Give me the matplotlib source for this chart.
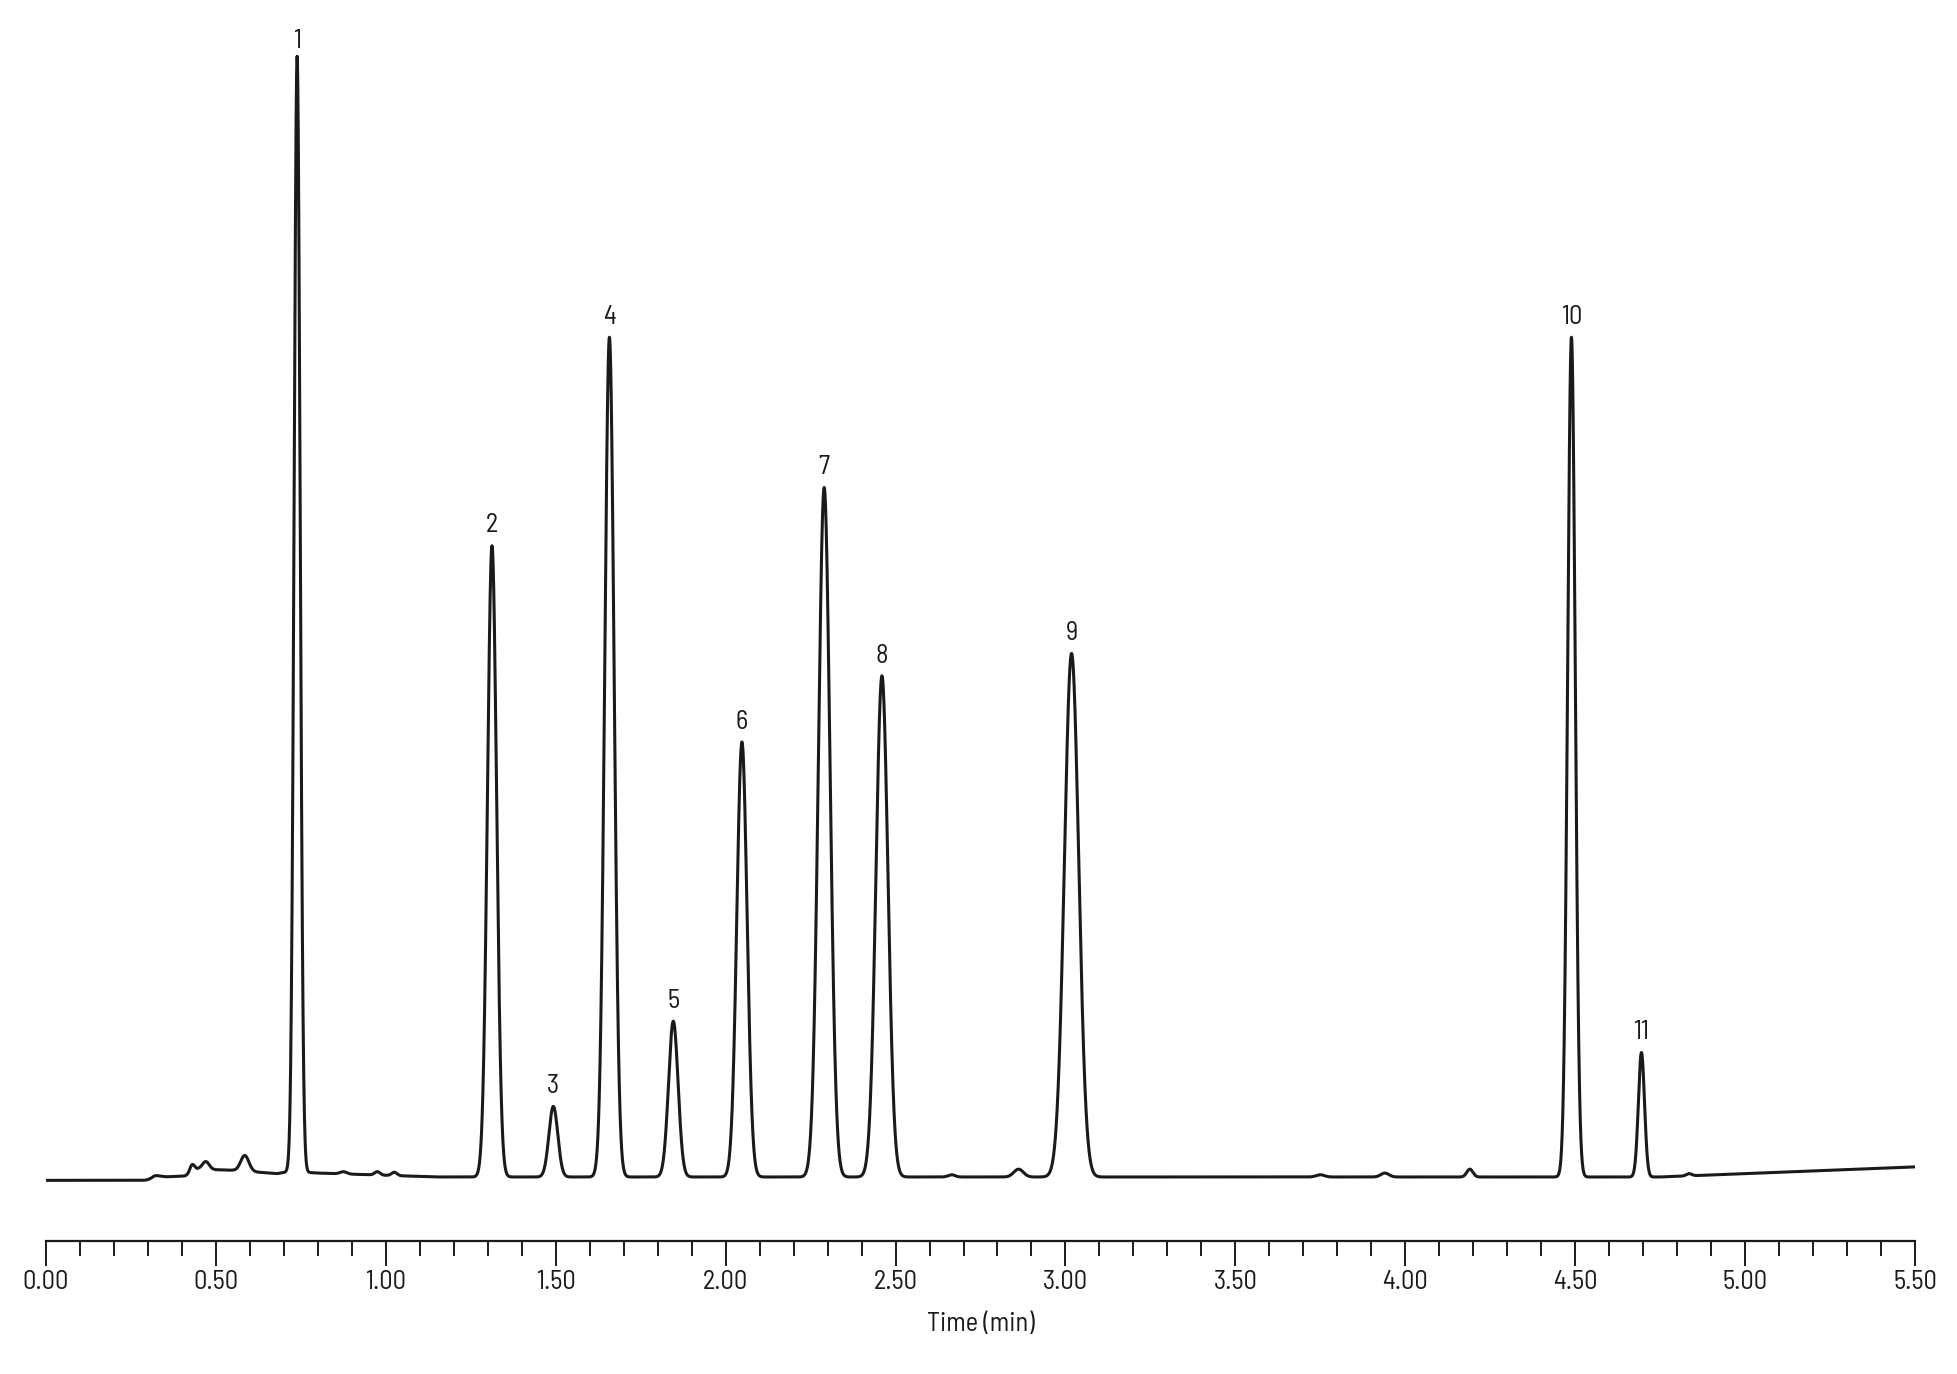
import numpy as np
import matplotlib
matplotlib.use('Agg')
import matplotlib.pyplot as plt
from matplotlib.ticker import MultipleLocator, FormatStrFormatter

plt.rcParams['font.family'] = ['Barlow Semi Condensed', 'DejaVu Sans']
plt.rcParams['font.stretch'] = 'condensed'

# main peaks: retention time (min), height (rel. to peak 1), sigma (min)
peak_labels = ['1', '2', '3', '4', '5', '6', '7', '8', '9', '10', '11']
peak_rt = [0.739, 1.3125, 1.493, 1.658, 1.846, 2.048, 2.290, 2.460, 3.018, 4.489, 4.695]
peak_h = [99.5, 56.3, 6.3, 74.9, 13.9, 38.8, 61.5, 44.7, 46.7, 74.9, 11.1]
peak_sd = [0.0088, 0.0134, 0.013, 0.0138, 0.014, 0.015, 0.017, 0.0176, 0.021, 0.0112, 0.009]

# small unlabelled bumps in the baseline
minor_rt = [0.32, 0.43, 0.47, 0.585, 0.875, 0.975, 1.025, 2.665, 2.862, 3.75, 3.94, 4.19, 4.835]
minor_h = [0.3, 0.8, 0.7, 1.4, 0.2, 0.3, 0.3, 0.2, 0.7, 0.2, 0.35, 0.7, 0.2]
minor_sd = [0.012, 0.008, 0.010, 0.012, 0.010, 0.008, 0.008, 0.010, 0.014, 0.012, 0.012, 0.009, 0.008]

# baseline drift
drift_t = [0.00, 0.31, 0.34, 0.42, 0.45, 0.55, 0.68, 0.72, 0.80, 1.15, 4.75, 5.50]
drift_y = [-0.3, -0.3, 0.0, 0.1, 0.7, 0.6, 0.3, 0.5, 0.35, 0.0, 0.0, 0.9]

t = np.linspace(0, 5.5, 11001)
signal = np.interp(t, drift_t, drift_y)
for rt, h, sd in zip(peak_rt + minor_rt, peak_h + minor_h, peak_sd + minor_sd):
    signal += h * np.exp(-0.5 * ((t - rt) / sd) ** 2)

W, H = 1958, 1374
fig = plt.figure(figsize=(W / 100, H / 100), dpi=100)
ax = fig.add_axes([46 / W, (H - 1241) / H, (1915 - 46) / W, (1241 - 20) / H])

ax.plot(t, signal, color='#1a1a1a', lw=2.2, solid_joinstyle='round')
ax.set_xlim(0, 5.5)
ax.set_ylim(-5.71, 103.2)

for lab, rt, h in zip(peak_labels, peak_rt, peak_h):
    ax.annotate(lab, (rt, h), xytext=(0, 6), textcoords='offset points',
                ha='center', va='bottom', fontsize=19, color='#1a1a1a')

for s in ['top', 'right', 'left']:
    ax.spines[s].set_visible(False)
ax.spines['bottom'].set_linewidth(1.6)
ax.spines['bottom'].set_color('#1a1a1a')
ax.set_yticks([])

ax.xaxis.set_major_locator(MultipleLocator(0.5))
ax.xaxis.set_minor_locator(MultipleLocator(0.1))
ax.xaxis.set_major_formatter(FormatStrFormatter('%.2f'))
ax.tick_params(axis='x', which='major', direction='out', length=18, width=1.4,
               color='#1a1a1a', labelsize=19, pad=3, labelcolor='#1a1a1a')
ax.tick_params(axis='x', which='minor', direction='out', length=10.5, width=1.4,
               color='#1a1a1a')
ax.set_xlabel('Time (min)', fontsize=19, color='#1a1a1a', labelpad=13)

fig.savefig('out.png', dpi=100)
